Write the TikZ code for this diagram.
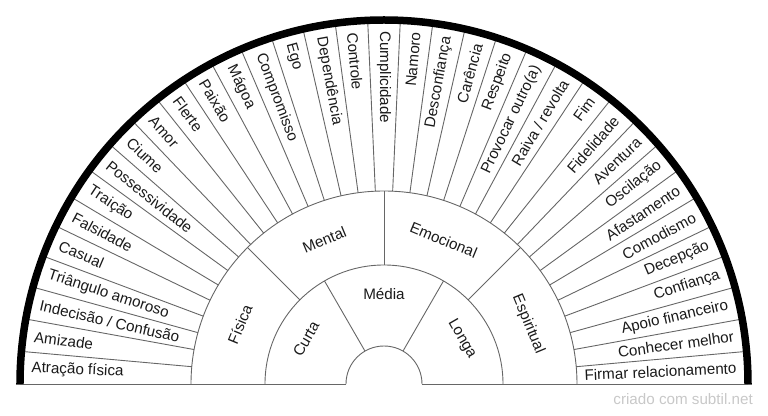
\documentclass[tikz,border=0pt]{standalone}
\usepackage{fontspec}
\setmainfont{Liberation Sans}
\definecolor{linegray}{HTML}{666666}
\definecolor{txt}{HTML}{1A1A1A}
\definecolor{wm}{HTML}{C8C8C8}
\begin{document}
\begin{tikzpicture}[x=1pt,y=1pt,
  ln/.style={draw=linegray, line width=0.9pt},
  lbl/.style={font=\fontsize{15.2}{18}\selectfont, text=txt, inner sep=0pt},
  rim/.style={draw=black, line width=7.5pt},
]
\useasboundingbox (-384,-31) rectangle (384,384);
% spokes of the outer ring
\foreach \i in {1,...,34}
  \draw[ln] ({180-\i*180/35}:193) -- ({180-\i*180/35}:364);
% rings
\draw[ln] (193,0) arc (0:180:193);
\draw[ln] (119,0) arc (0:180:119);
\draw[ln] (38,0) arc (0:180:38);
% category dividers
\foreach \a in {45,90,135} \draw[ln] (\a:119) -- (\a:193);
% duration dividers
\foreach \a in {60,120} \draw[ln] (\a:38) -- (\a:119);
% base line
\coordinate (bl1) at (-368,0); \coordinate (bl2) at (-38,0);
\coordinate (br1) at (38,0);   \coordinate (br2) at (368,0);
\draw[ln] (bl1) -- (bl2);
\draw[ln] (br1) -- (br2);
% outer rim
\draw[rim] (364,0) arc (0:180:364);
% outer labels
\foreach \t [count=\i from 0] in {Atração física,Amizade,Indecisão / Confusão,Triângulo amoroso,Casual,Falsidade,Traição,Possessividade,Ciume,Amor,Flerte,Paixão,Mágoa,Compromisso,Ego,Dependência,Controle,Cumplicidade,Namoro,Desconfiança,Carência,Respeito,Provocar outro(a),Raiva / revolta,Fim,Fidelidade,Aventura,Oscilação,Afastamento,Comodismo,Decepção,Confiança,Apoio financeiro,Conhecer melhor,Firmar relacionamento}{
  \pgfmathsetmacro\ang{180-(\i+0.5)*180/35}
  \ifnum\i<18
    \node[lbl, anchor=west, rotate=\ang+180] (o\i) at (\ang:353) {\t};
  \else
    \node[lbl, anchor=east, rotate=\ang] (o\i) at (\ang:353) {\t};
  \fi
}
% category labels
\node[lbl, rotate=67.5]  (fis) at (157.5:156) {Física};
\node[lbl, rotate=22.5]  (men) at (112.5:156) {Mental};
\node[lbl, rotate=-22.5] (emo) at (67.5:156) {Emocional};
\node[lbl, rotate=-67.5] (esp) at (22.5:156) {Espiritual};
% duration labels
\node[lbl, rotate=60]  (cur) at (150:90) {Curta};
\node[lbl]             (med) at (90:90) {Média};
\node[lbl, rotate=-60] (lon) at (30:90) {Longa};
% watermark
\node[font=\fontsize{15.2}{18}\selectfont, text=wm, inner sep=0pt, anchor=base east] (wmk) at (369,-20) {criado com subtil.net};
\end{tikzpicture}
\end{document}
